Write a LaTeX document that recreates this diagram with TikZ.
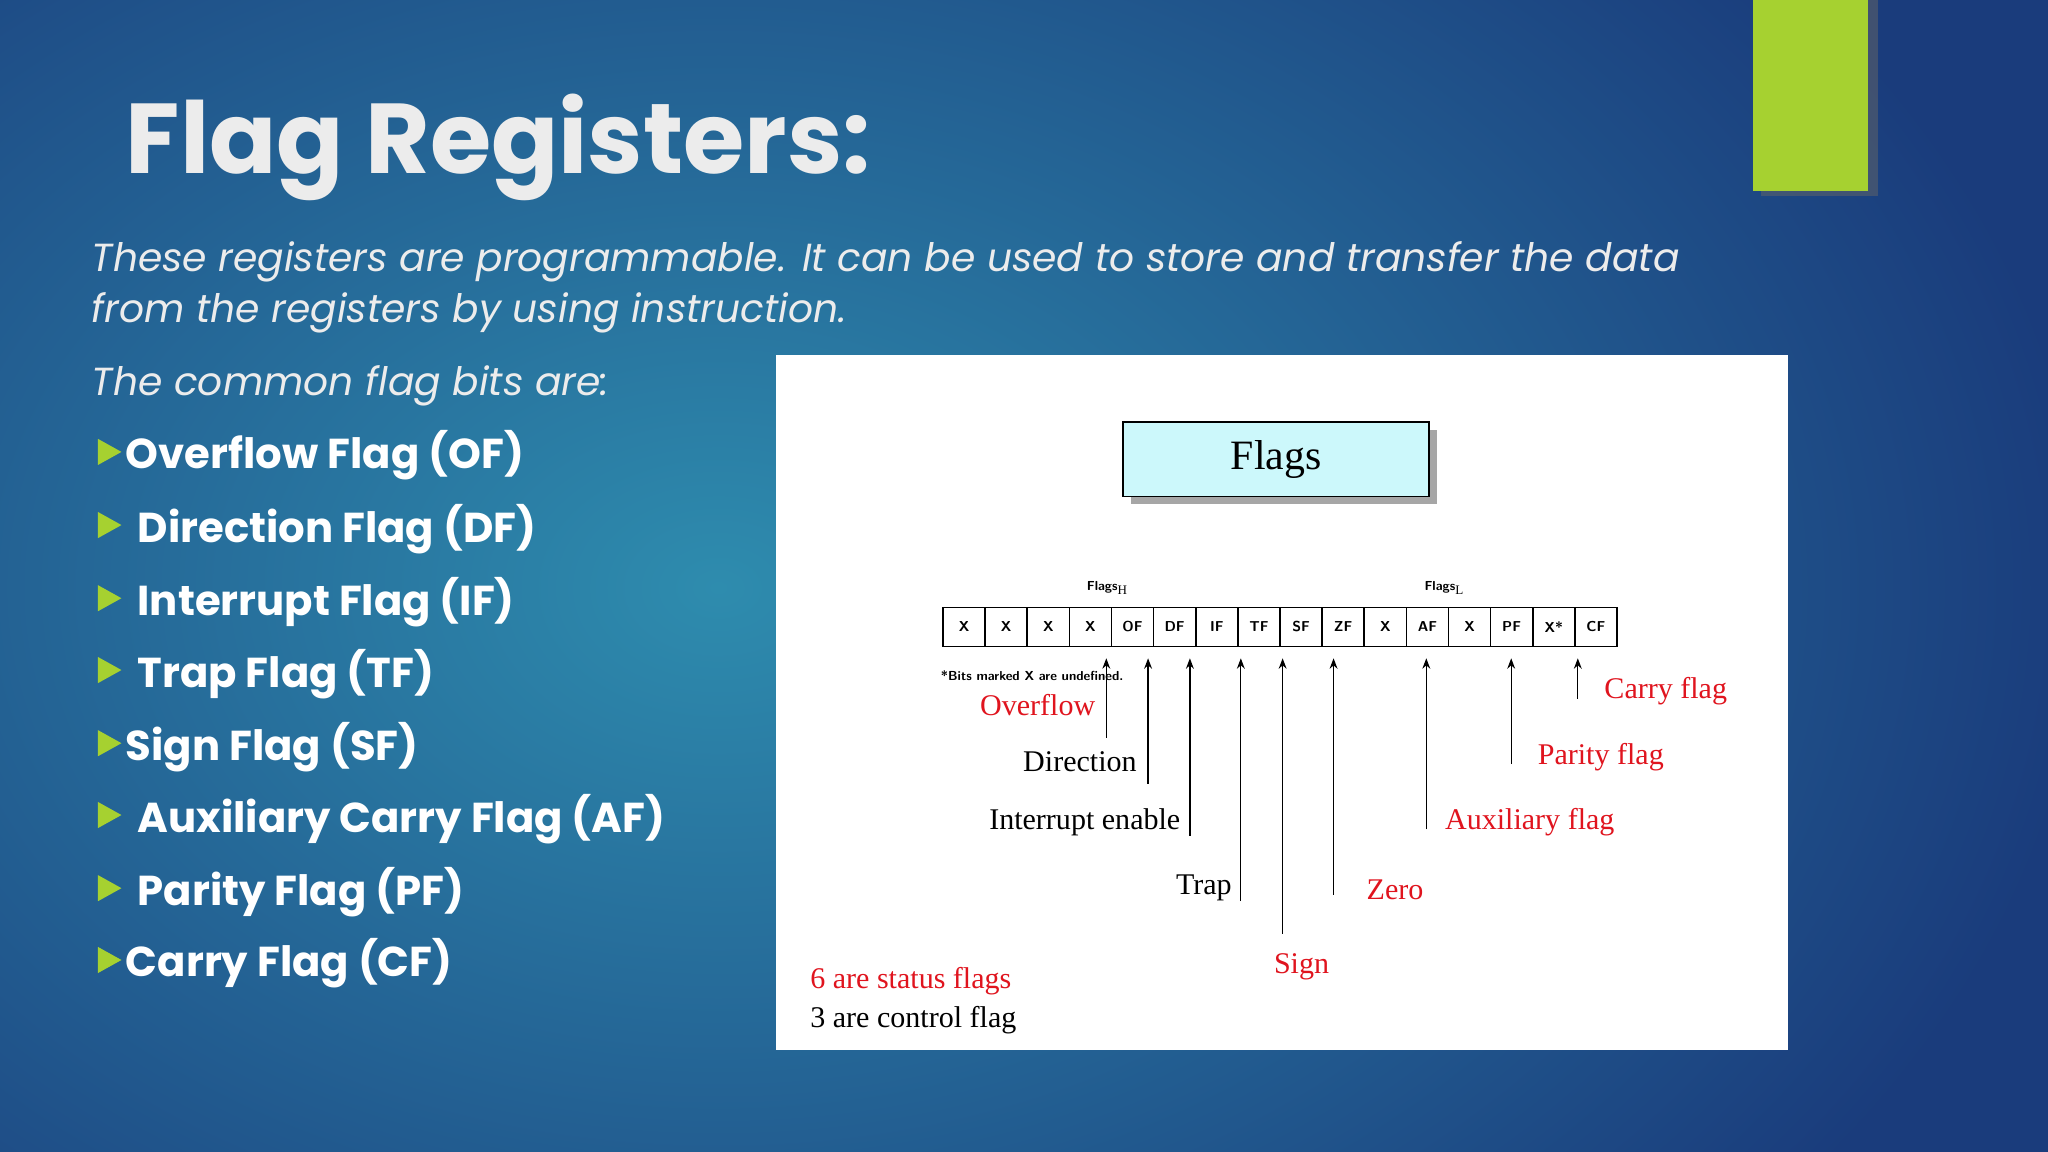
\documentclass[tikz,border=0pt]{standalone}
\usepackage{fontspec}
\setmainfont{Liberation Serif}
\newfontfamily\slide{Poppins}
\usetikzlibrary{arrows.meta}
\definecolor{bgA}{HTML}{2E8CAE}
\definecolor{bgB}{HTML}{1A3C7C}
\definecolor{grn}{HTML}{A6D130}
\definecolor{cyanbox}{HTML}{CCF8FB}
\definecolor{redlab}{HTML}{E0141E}
\definecolor{txt}{HTML}{ECECEC}
\tikzset{
 bul/.style={fill=grn,draw=none},
 bultext/.style={anchor=base west,text=white,font=\slide\bfseries\fontsize{16}{19}\selectfont,inner sep=0},
 itext/.style={anchor=base west,text=txt,font=\slide\itshape\fontsize{15}{18}\selectfont,inner sep=0},
 cell/.style={draw,line width=0.6pt,minimum width=16.1pt,minimum height=15pt,inner sep=0,font=\sffamily\bfseries\fontsize{5.5}{6}\selectfont},
 lab/.style={anchor=base west,inner sep=0,font=\fontsize{11.5}{13}\selectfont},
 arr/.style={-{Stealth[length=4pt,width=3pt]},line width=0.5pt},
}
\begin{document}
\begin{tikzpicture}[x=0.5pt,y=-0.5pt]
\useasboundingbox (0,0) rectangle (1568,882);
\shade[inner color=bgA,outer color=bgB] (-500,-300) rectangle (1600,1200);
\clip (0,0) rectangle (1568,882);
% green bar
\fill[black!60,opacity=0.5] (1348,0) rectangle (1438,150);
\fill[grn] (1342,0) rectangle (1430,146);
\node[anchor=base west,inner sep=0,text=txt,font=\slide\bfseries\fontsize{38}{44}\selectfont] (title) at (96,133) {Flag Registers:};
\node[itext] (t1) at (70,208) {These registers are programmable. It can be used to store and transfer the data};
\node[itext] (t2) at (70,247) {from the registers by using instruction.};
\node[itext] (t3) at (70,303) {The common flag bits are:};
\foreach \y/\x/\t [count=\i] in {348/96/Overflow Flag (OF),404/105/Direction Flag (DF),460/105/Interrupt Flag (IF),515/105/Trap Flag (TF),571/96/Sign Flag (SF),626/105/Auxiliary Carry Flag (AF),682/105/Parity Flag (PF),737/96/Carry Flag (CF)}{
 \fill[bul] (75,\y-12) -- (93,\y-2) -- (75,\y+8) -- cycle;
 \node[bultext] (b\i) at (\x,\y+11) {\t};
}
% panel
\fill[white] (594,272) rectangle (1369,804);
\fill[gray!70] (866,329) rectangle (1100,386);
\node[draw,fill=cyanbox,line width=0.6pt,minimum width=117pt,minimum height=28.5pt,font=\fontsize{16}{18}\selectfont] (flags) at (977,351.5) {Flags};
\foreach \t [count=\i from 0] in {X,X,X,X,OF,DF,IF,TF,SF,ZF,X,AF,X,PF,X*,CF}{
 \node[cell] (c\i) at (738.1+32.25*\i,480) {\t};
}
\node[font=\sffamily\bfseries\fontsize{5}{6}\selectfont,inner sep=0] (fh) at (848,450) {Flags$_\mathrm{H}$};
\node[font=\sffamily\bfseries\fontsize{5}{6}\selectfont,inner sep=0] (fl) at (1106,450) {Flags$_\mathrm{L}$};
\node[anchor=base west,inner sep=0,font=\sffamily\bfseries\fontsize{5}{6}\selectfont] (und) at (720,521) {*Bits marked X are undefined.};
\foreach \n/\x/\yb in {a/847/565,b/879/600,c/911/640,d/950/690,e/982/715,f/1021/685,g/1092/635,h/1157/585,k/1208/535}{
 \coordinate (s\n) at (\x,\yb);
 \coordinate (e\n) at (\x,504);
 \draw[arr] (s\n) -- (e\n);
}
\node[lab,text=redlab] (l1) at (750,548) {Overflow};
\node[lab] (l2) at (783,591) {Direction};
\node[lab] (l3) at (757,635) {Interrupt enable};
\node[lab] (l4) at (900,685) {Trap};
\node[lab,text=redlab] (l5) at (975,745) {Sign};
\node[lab,text=redlab] (l6) at (1046,689) {Zero};
\node[lab,text=redlab] (l7) at (1106,635) {Auxiliary flag};
\node[lab,text=redlab] (l8) at (1177,585) {Parity flag};
\node[lab,text=redlab] (l9) at (1228,535) {Carry flag};
\node[lab,text=redlab] (s1) at (620,757) {6 are status flags};
\node[lab] (s2) at (620,787) {3 are control flag};
\end{tikzpicture}
\end{document}
